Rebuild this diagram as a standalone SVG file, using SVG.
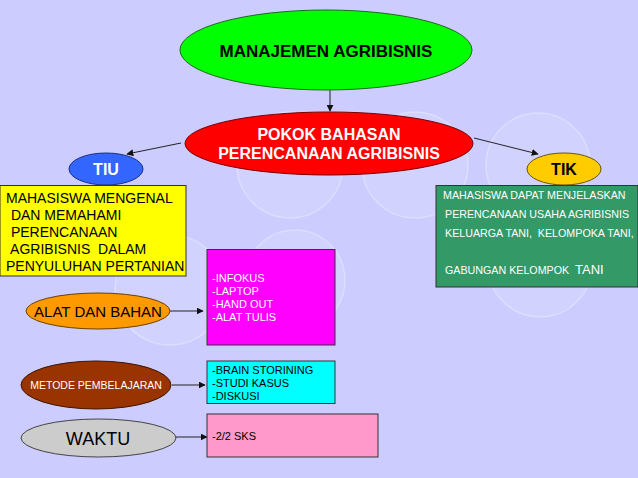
<svg xmlns="http://www.w3.org/2000/svg" width="638" height="478" viewBox="0 0 638 478">
<style>
text{font-family:"Liberation Sans",Arial,sans-serif}
.b{font-weight:bold}
.c{text-anchor:middle}
.bg{fill:#ffffff;fill-opacity:0.12;stroke:#ffffff;stroke-opacity:0.3;stroke-width:1.5}
.con{stroke:#222;stroke-width:1;fill:none;marker-end:url(#ah)}
.box{stroke:#333;stroke-width:1}
</style>
<defs>
<marker id="ah" viewBox="0 0 10 10" refX="9" refY="5" markerWidth="7" markerHeight="7" orient="auto" markerUnits="userSpaceOnUse">
<path d="M0,0 L10,5 L0,10 z" fill="#111"/>
</marker>
</defs>
<rect width="638" height="478" fill="#CCCCFF"/>
<g id="background">
<circle class="bg" cx="290" cy="165" r="53"/>
<circle class="bg" cx="415" cy="165" r="53"/>
<circle class="bg" cx="538" cy="165" r="52"/>
<circle class="bg" cx="540" cy="265" r="52"/>
<circle class="bg" cx="295" cy="280" r="50"/>
<circle class="bg" cx="170" cy="290" r="55"/>
</g>
<g id="connectors">
<line class="con" x1="330" y1="90" x2="330" y2="111"/>
<line class="con" x1="181" y1="143" x2="127" y2="154"/>
<line class="con" x1="474" y1="138" x2="538" y2="154"/>
<line class="con" x1="170" y1="311" x2="203" y2="311"/>
<line class="con" x1="172" y1="385" x2="205" y2="385"/>
<line class="con" x1="176" y1="437" x2="207" y2="437"/>
</g>
<g id="manajemen">
<ellipse cx="326" cy="50" rx="146" ry="40" fill="#00FF00" stroke="#1a6b1a" stroke-width="1"/>
<text class="b c" x="326" y="57" font-size="17" fill="#000">MANAJEMEN AGRIBISNIS</text>
</g>
<g id="pokok">
<ellipse cx="329" cy="143.5" rx="144" ry="31.5" fill="#FF0000" stroke="#7a0000" stroke-width="1"/>
<text class="b c" x="329" y="140" font-size="16" fill="#fff">POKOK BAHASAN</text>
<text class="b c" x="329" y="159" font-size="16" fill="#fff">PERENCANAAN AGRIBISNIS</text>
</g>
<g id="tiu">
<ellipse cx="106" cy="169" rx="37" ry="16" fill="#3366FF" stroke="#1a2f80" stroke-width="1"/>
<text class="b c" x="106" y="175" font-size="16" fill="#fff">TIU</text>
</g>
<g id="tik">
<ellipse cx="564" cy="169" rx="37" ry="16" fill="#FFCC00" stroke="#6b5500" stroke-width="1"/>
<text class="b c" x="564" y="175" font-size="16" fill="#000">TIK</text>
</g>
<g id="tiu-text">
<rect class="box" x="0" y="185.5" width="186" height="90.5" fill="#FFFF00"/>
<text font-size="14" fill="#000" xml:space="preserve"><tspan x="6" y="203">MAHASISWA MENGENAL</tspan><tspan x="7" y="220"> DAN MEMAHAMI</tspan><tspan x="7" y="237"> PERENCANAAN</tspan><tspan x="7" y="254"> AGRIBISNIS  DALAM</tspan><tspan x="6" y="271">PENYULUHAN PERTANIAN</tspan></text>
</g>
<g id="tik-text">
<rect class="box" x="436" y="185.5" width="202" height="101.5" fill="#339966"/>
<text font-size="10.7" fill="#fff" xml:space="preserve"><tspan x="443" y="199">MAHASISWA DAPAT MENJELASKAN</tspan><tspan x="445" y="218">PERENCANAAN USAHA AGRIBISNIS</tspan><tspan x="445" y="237">KELUARGA TANI,  KELOMPOKA TANI,</tspan><tspan x="445" y="274">GABUNGAN KELOMPOK  <tspan font-size="13">TANI</tspan></tspan></text>
</g>
<g id="alat">
<ellipse cx="98" cy="311" rx="72" ry="18" fill="#FF9900" stroke="#6b4000" stroke-width="1"/>
<text class="c" x="98" y="317" font-size="15" fill="#000">ALAT DAN BAHAN</text>
</g>
<g id="alat-text">
<rect class="box" x="207" y="249.5" width="128" height="95.5" fill="#FF00FF"/>
<text font-size="11" fill="#fff"><tspan x="212" y="282">-INFOKUS</tspan><tspan x="212" y="295">-LAPTOP</tspan><tspan x="212" y="307.5">-HAND OUT</tspan><tspan x="212" y="320.5">-ALAT TULIS</tspan></text>
</g>
<g id="metode">
<ellipse cx="96" cy="385" rx="75" ry="24" fill="#993300" stroke="#3d1400" stroke-width="1"/>
<text class="c" x="96" y="389" font-size="10.5" fill="#fff">METODE PEMBELAJARAN</text>
</g>
<g id="metode-text">
<rect class="box" x="207" y="361" width="128" height="42.5" fill="#00FFFF"/>
<text font-size="11" fill="#000"><tspan x="212" y="374">-BRAIN STORINING</tspan><tspan x="212" y="387">-STUDI KASUS</tspan><tspan x="212" y="399.5">-DISKUSI</tspan></text>
</g>
<g id="waktu">
<ellipse cx="98.5" cy="438" rx="77.5" ry="19" fill="#CCCCCC" stroke="#444" stroke-width="1"/>
<text class="c" x="98" y="445" font-size="18" fill="#000">WAKTU</text>
</g>
<g id="waktu-text">
<rect class="box" x="207" y="414" width="171" height="43" fill="#FF99CC"/>
<text x="212" y="440" font-size="11" fill="#000">-2/2 SKS</text>
</g>
</svg>
